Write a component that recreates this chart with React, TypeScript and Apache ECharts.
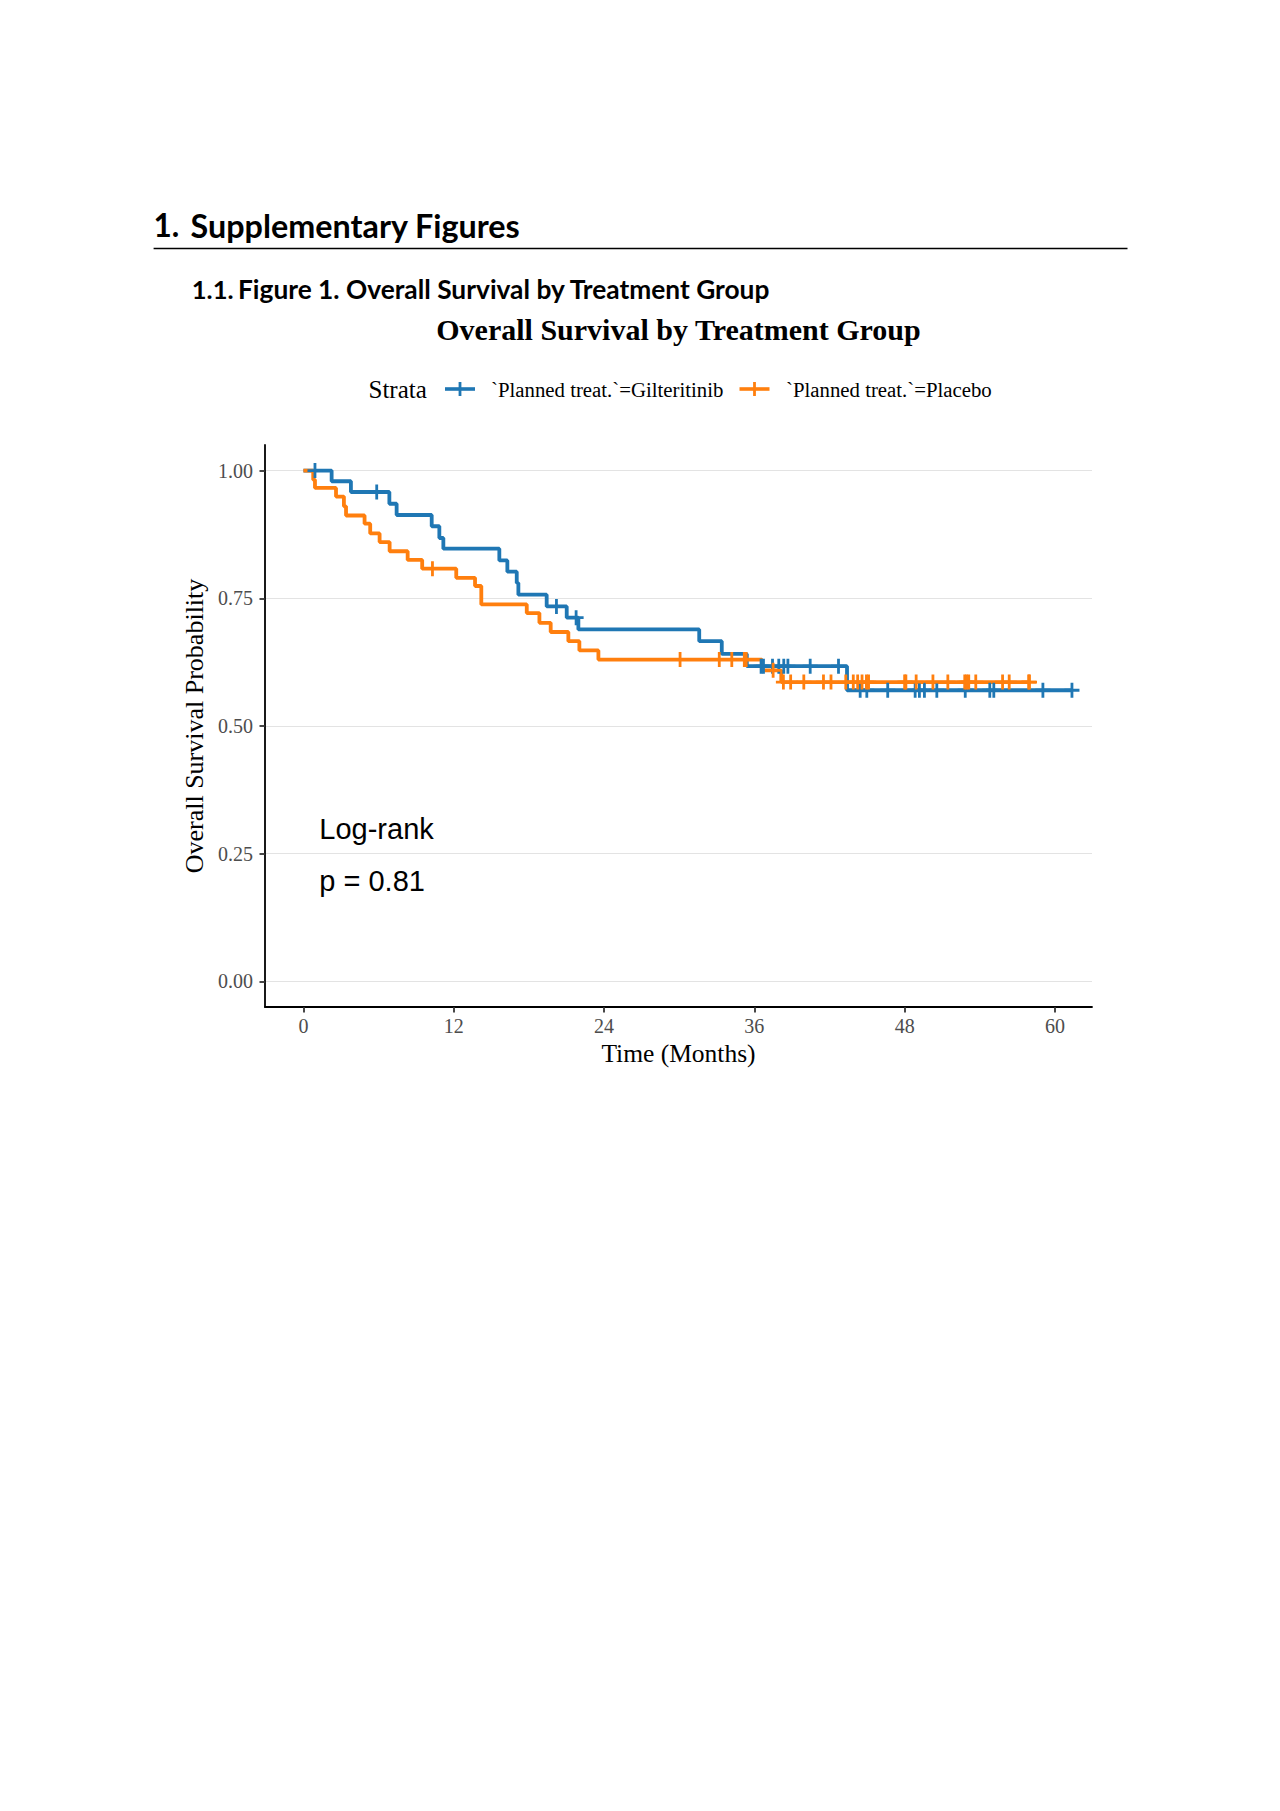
import React, { useEffect, useRef } from "react";
import * as echarts from "echarts";

// ---------- data ----------
const GILT_NAME = "`Planned treat.`=Gilteritinib";
const PLAC_NAME = "`Planned treat.`=Placebo";
const CHART_TITLE = "Overall Survival by Treatment Group";
const X_TITLE = "Time (Months)";
const Y_TITLE = "Overall Survival Probability";
const LEGEND_TITLE = "Strata";
const PVAL_LINES = ["Log-rank", "p = 0.81"];

// Gilteritinib: event times (months) and survival after each step
const giltTimes = [0, 2.25, 3.79, 6.86, 7.44, 10.24, 10.85, 11.17, 15.64, 16.28, 17.03, 17.16, 19.42, 21.02, 21.95, 31.6, 33.4, 35.4, 43.4];
const giltSurv = [1.0, 0.979, 0.958, 0.935, 0.913, 0.891, 0.868, 0.847, 0.824, 0.802, 0.78, 0.757, 0.734, 0.712, 0.689, 0.666, 0.641, 0.617, 0.57];
const giltEnd = 61.36;
const giltCensor = [0.92, 5.85, 20.2, 21.77, 36.54, 36.73, 37.45, 37.95, 38.35, 38.68, 40.46, 42.72, 44.45, 44.98, 46.65, 48.84, 49.18, 49.58, 50.57, 52.84, 54.8, 55.12, 59.04, 61.36];

// Placebo
const placTimes = [0, 0.78, 0.92, 2.6, 3.23, 3.4, 4.88, 5.33, 6.08, 6.88, 8.32, 9.48, 12.2, 13.7, 14.2, 17.83, 18.84, 19.74, 21.15, 22.03, 23.55, 36.6, 38.15];
const placSurv = [1.0, 0.982, 0.966, 0.949, 0.93, 0.912, 0.896, 0.877, 0.86, 0.842, 0.825, 0.808, 0.79, 0.774, 0.738, 0.721, 0.702, 0.684, 0.666, 0.648, 0.63, 0.609, 0.586];
const placEnd = 57.97;
const placCensor = [10.3, 30.07, 33.2, 34.2, 35.2, 35.35, 37.5, 38.32, 38.9, 39.95, 41.52, 42.12, 43.3, 43.9, 44.25, 44.6, 44.95, 45.12, 48.0, 48.1, 48.92, 50.26, 51.45, 52.8, 52.95, 53.12, 53.68, 55.82, 56.35, 57.9, 57.97];

const xTicks = [0, 12, 24, 36, 48, 60];
const yTicks = [0, 0.25, 0.5, 0.75, 1];

// ---------- styles ----------
const BLUE = "#1f77b4";
const ORANGE = "#ff7f0e";
const SERIF = '"Liberation Serif", "DejaVu Serif", serif';
const SANS = '"Liberation Sans", Arial, sans-serif';
const HEAD = 'Lato, "Open Sans", sans-serif';
const CROSS = "path://M6.1,0 H8.9 V6.1 H15 V8.9 H8.9 V15 H6.1 V8.9 H0 V6.1 H6.1 Z";

function stepData(times: number[], surv: number[], end: number) {
  const d = times.map((t, i) => [t, surv[i]]);
  d.push([end, surv[surv.length - 1]]);
  return d;
}
function survAt(times: number[], surv: number[], t: number) {
  let s = surv[0];
  for (let i = 0; i < times.length; i++) if (times[i] <= t) s = surv[i];
  return s;
}
function censorData(times: number[], surv: number[], c: number[]) {
  return c.map((t) => [t, survAt(times, surv, t)]);
}

function txt(text: string, x: number, y: number, font: any, align = "left", vAlign = "middle") {
  return {
    type: "text",
    x,
    y,
    style: {
      text,
      fill: font.fill || "#000",
      fontFamily: font.family,
      fontSize: font.size,
      fontWeight: font.weight || "normal",
      textAlign: align,
      textVerticalAlign: vAlign,
      align,
      verticalAlign: vAlign,
    },
  };
}

function legendKey(cx: number, cy: number, color: string) {
  return [
    { type: "line", shape: { x1: cx - 15, y1: cy, x2: cx + 15, y2: cy }, style: { stroke: color, lineWidth: 3.6 } },
    { type: "line", shape: { x1: cx, y1: cy - 7, x2: cx, y2: cy + 7 }, style: { stroke: color, lineWidth: 2.8 } },
  ];
}

export default function App() {
  const ref = useRef<HTMLDivElement>(null);
  useEffect(() => {
    if (!ref.current) return;
    const chart = echarts.init(ref.current, null, { renderer: "svg" });
    const graphic: any[] = [
      txt("1.", 153.6, 225, { family: HEAD, size: 31.5, weight: "bold" }),
      txt("Supplementary Figures", 190.6, 225, { family: HEAD, size: 32.3, weight: "bold" }),
      { type: "line", shape: { x1: 153.6, y1: 248.4, x2: 1127.5, y2: 248.4 }, style: { stroke: "#000", lineWidth: 1.5 } },
      txt("1.1.", 191.8, 289, { family: HEAD, size: 25.5, weight: "bold" }),
      txt("Figure 1. Overall Survival by Treatment Group", 238, 289, { family: HEAD, size: 26.3, weight: "bold" }),
      txt(CHART_TITLE, 678.5, 329, { family: SERIF, size: 30, weight: "bold" }, "center"),
      txt(LEGEND_TITLE, 368.5, 389, { family: SERIF, size: 25 }),
      ...legendKey(460, 389, BLUE),
      txt(GILT_NAME, 491, 389, { family: SERIF, size: 20.8 }),
      ...legendKey(754.5, 389, ORANGE),
      txt(PLAC_NAME, 786, 389, { family: SERIF, size: 20.8 }),
      txt(PVAL_LINES[0], 319.3, 829, { family: SANS, size: 29 }),
      txt(PVAL_LINES[1], 319.3, 880.5, { family: SANS, size: 29 }),
    ];
    const option: any = {
      animation: false,
      backgroundColor: "#ffffff",
      grid: { left: 265, top: 445, width: 827, height: 562, containLabel: false },
      xAxis: {
        type: "value",
        min: -3.07,
        max: 62.96,
        name: X_TITLE,
        nameLocation: "middle",
        nameGap: 33,
        nameTextStyle: { fontFamily: SERIF, fontSize: 25.5, color: "#000" },
        axisLine: { show: true, onZero: false, lineStyle: { color: "#000", width: 1.8 } },
        axisTick: { show: true, length: 5.5, lineStyle: { color: "#333", width: 1.8 }, customValues: xTicks },
        axisLabel: { customValues: xTicks, fontFamily: SERIF, fontSize: 20, color: "#4d4d4d", margin: 9 },
        splitLine: { show: false },
      },
      yAxis: {
        type: "value",
        min: -0.05,
        max: 1.05,
        name: Y_TITLE,
        nameLocation: "middle",
        nameGap: 54,
        nameTextStyle: { fontFamily: SERIF, fontSize: 26, color: "#000" },
        axisLine: { show: true, onZero: false, lineStyle: { color: "#000", width: 1.8 } },
        axisTick: { show: true, length: 5.5, lineStyle: { color: "#333", width: 1.8 }, customValues: yTicks },
        axisLabel: {
          customValues: yTicks,
          fontFamily: SERIF,
          fontSize: 20,
          color: "#4d4d4d",
          margin: 12,
          formatter: (v: number) => v.toFixed(2),
        },
        splitLine: { show: true, lineStyle: { color: "#e3e3e3", width: 1.2 } },
      },
      graphic,
      series: [
        {
          type: "line",
          name: GILT_NAME,
          data: stepData(giltTimes, giltSurv, giltEnd),
          step: "end",
          showSymbol: false,
          symbol: "none",
          lineStyle: { color: BLUE, width: 3.8 },
          itemStyle: { color: BLUE },
          z: 2,
        },
        {
          type: "line",
          name: PLAC_NAME,
          data: stepData(placTimes, placSurv, placEnd),
          step: "end",
          showSymbol: false,
          symbol: "none",
          lineStyle: { color: ORANGE, width: 3.8 },
          itemStyle: { color: ORANGE },
          z: 3,
        },
        {
          type: "scatter",
          name: GILT_NAME,
          data: censorData(giltTimes, giltSurv, giltCensor),
          symbol: CROSS,
          symbolSize: 15,
          itemStyle: { color: BLUE, opacity: 1 },
          z: 4,
        },
        {
          type: "scatter",
          name: PLAC_NAME,
          data: censorData(placTimes, placSurv, placCensor),
          symbol: CROSS,
          symbolSize: 15,
          itemStyle: { color: ORANGE, opacity: 1 },
          z: 5,
        },
      ],
    };
    chart.setOption(option);
    return () => chart.dispose();
  }, []);
  return (
    <div
      ref={ref}
      style={{ position: "absolute", left: 0, top: 0, width: 1280, height: 1811, background: "#fff" }}
    />
  );
}
